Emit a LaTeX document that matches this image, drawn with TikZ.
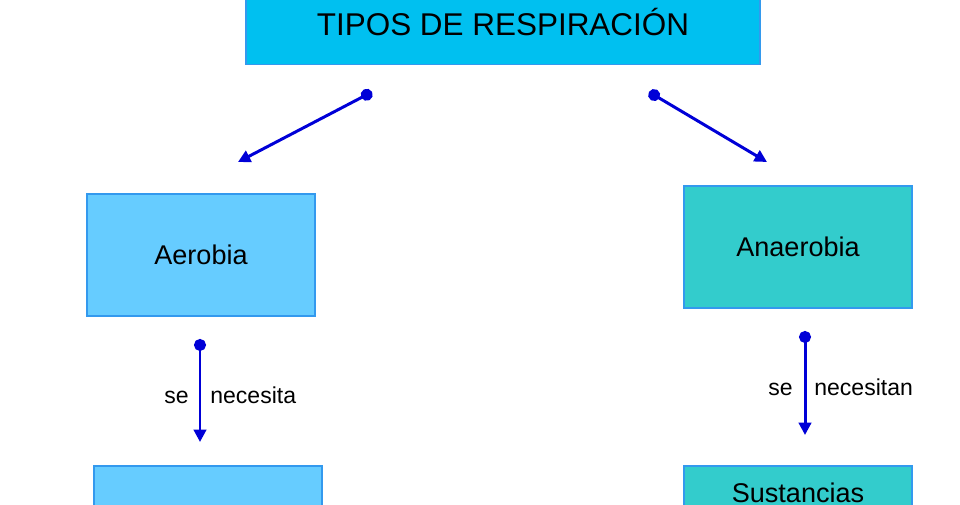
\documentclass[tikz,border=0pt]{standalone}
\usepackage{fontspec}
\setmainfont{Liberation Sans}
\usetikzlibrary{arrows.meta,positioning}
\definecolor{titlefill}{RGB}{0,192,240}
\definecolor{boxline}{RGB}{51,153,238}
\definecolor{aerofill}{RGB}{102,204,255}
\definecolor{anaefill}{RGB}{51,204,204}
\definecolor{linkblue}{RGB}{0,0,215}

\begin{document}
\begin{tikzpicture}[
  x=0.02cm, y=-0.02cm,
  box/.style={draw=boxline, line width=1.1pt, rectangle, align=center, minimum width=4.56cm, minimum height=2.44cm, font=\fontsize{15.4}{18}\selectfont},
  link/.style={{Circle[length=6.8pt]}-{Triangle[length=7pt,width=7pt]}, draw=linkblue, line width=1.7pt},
  tag/.style={font=\fontsize{13.1}{16}\selectfont, inner sep=0pt}
]
\useasboundingbox (0,0) rectangle (960,504);
\node (tipos) [box, fill=titlefill, minimum width=10.28cm, minimum height=1.7cm, font=\fontsize{17.9}{21}\selectfont] at (503,22) {TIPOS DE RESPIRACIÓN};
\node (aerobia) [box, fill=aerofill] at (201,255) {Aerobia};
\node (anaerobia) [box, fill=anaefill] at (798,247) {Anaerobia};
\node (oxigeno) [box, fill=aerofill, anchor=north] at (208,465) {};
\node (sustancias) [box, fill=anaefill, anchor=north, inner ysep=9pt, text height=12pt, text depth=2cm] at (798,465) {Sustancias};

% connectors
\coordinate (t1) at (372,92);
\coordinate (t2) at (238,162);
\coordinate (t3) at (649,92);
\coordinate (t4) at (767,162);
\coordinate (a1) at (200,339);
\coordinate (a2) at (200,442);
\coordinate (b1) at (805,331);
\coordinate (b2) at (805,435);

\draw[link] (t1) -- (t2);
\draw[link] (t3) -- (t4);
\draw[link] (a1) -- (a2);
\draw[link] (b1) -- (b2);

\node (se1) [tag, anchor=base east] at (189,403) {se};
\node (nec1) [tag, anchor=base west] at (210,403) {necesita};
\node (se2) [tag, anchor=base east] at (793,395) {se};
\node (nec2) [tag, anchor=base west] at (814,395) {necesitan};
\end{tikzpicture}
\end{document}
